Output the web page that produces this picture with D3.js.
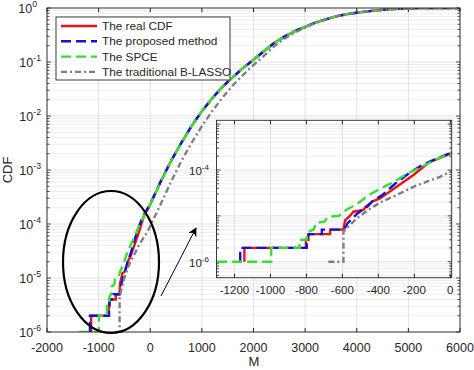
<!DOCTYPE html>
<html>
<head>
<meta charset="utf-8">
<script src="https://cdn.jsdelivr.net/npm/d3@7"></script>
<style>
  body { margin: 0; background: #fff; }
  text { font-family: "Liberation Sans", Arial, sans-serif; fill: #262626; }
</style>
</head>
<body>
<svg id="chart" width="474" height="370"></svg>
<script>
// [M, CDF] points
var realCdf = [
  [-1145, 1e-6], [-1145, 2e-6], [-803, 2e-6], [-803, 3e-6], [-789, 3e-6], [-789, 4e-6],
  [-668, 4e-6], [-668, 5e-6], [-594, 5e-6], [-585, 8e-6], [-553, 1.05e-5], [-539, 1.23e-5],
  [-483, 1.34e-5], [-470, 1.6e-5], [-428, 2.1e-5], [-391, 2.4e-5], [-298, 4.3e-5],
  [-205, 7.8e-5], [-113, 1.5e-4], [-37, 1.95e-4], [0, 2.3e-4],
  [200, 6.0e-4], [400, 1.45e-3], [600, 3.16e-3], [800, 6.5e-3], [1000, 0.0123], [1200, 0.0214],
  [1400, 0.0347], [1600, 0.0525], [1800, 0.0776], [2000, 0.11], [2200, 0.158], [2400, 0.224],
  [2600, 0.295], [2800, 0.372], [3000, 0.447], [3200, 0.537], [3400, 0.617], [3600, 0.70],
  [3800, 0.767], [4000, 0.818], [4200, 0.867], [4400, 0.908], [4600, 0.942], [4800, 0.968],
  [5000, 0.986], [5200, 0.993], [5500, 0.998], [6000, 1]
];
var proposed = [
  [-1168, 1e-6], [-1168, 2e-6], [-798, 2e-6], [-798, 3e-6], [-785, 4e-6], [-714, 4e-6],
  [-714, 5e-6], [-600, 5e-6], [-585, 5.5e-6], [-570, 7e-6], [-546, 8.5e-6], [-520, 1.1e-5],
  [-490, 1.34e-5], [-460, 1.6e-5], [-428, 2.2e-5], [-380, 2.8e-5], [-307, 5.0e-5],
  [-230, 8.5e-5], [-154, 1.3e-4], [-63, 1.87e-4], [0, 2.35e-4],
  [200, 6.1e-4], [400, 1.46e-3], [600, 3.17e-3], [800, 6.5e-3], [1000, 0.0123], [1200, 0.0214],
  [1400, 0.0347], [1600, 0.0525], [1800, 0.0776], [2000, 0.11], [2200, 0.158], [2400, 0.224],
  [2600, 0.295], [2800, 0.372], [3000, 0.447], [3200, 0.537], [3400, 0.617], [3600, 0.70],
  [3800, 0.767], [4000, 0.818], [4200, 0.867], [4400, 0.908], [4600, 0.942], [4800, 0.968],
  [5000, 0.986], [5200, 0.993], [5500, 0.998], [6000, 1]
];
var spce = [
  [-1380, 1e-6], [-996, 1e-6], [-996, 2e-6], [-839, 2e-6], [-839, 3e-6], [-800, 3e-6],
  [-790, 4.5e-6], [-760, 5e-6], [-745, 7e-6], [-700, 7.5e-6], [-680, 9.5e-6], [-620, 1.0e-5],
  [-580, 1.34e-5], [-520, 1.8e-5], [-455, 2.8e-5], [-396, 3.8e-5], [-318, 5.4e-5],
  [-242, 8.2e-5], [-168, 1.13e-4], [-74, 1.74e-4], [0, 2.3e-4],
  [200, 6.0e-4], [400, 1.45e-3], [600, 3.16e-3], [800, 6.5e-3], [1000, 0.0123], [1200, 0.0214],
  [1400, 0.0347], [1600, 0.0525], [1800, 0.0776], [2000, 0.11], [2200, 0.158], [2400, 0.224],
  [2600, 0.295], [2800, 0.372], [3000, 0.447], [3200, 0.537], [3400, 0.617], [3600, 0.70],
  [3800, 0.767], [4000, 0.818], [4200, 0.867], [4400, 0.908], [4600, 0.942], [4800, 0.968],
  [5000, 0.986], [5200, 0.993], [5500, 0.998], [6000, 1]
];
var bLasso = [
  [-678, 1e-6], [-594, 1e-6], [-594, 4.5e-6], [-557, 6.3e-6], [-520, 8.8e-6], [-464, 1.28e-5],
  [-391, 1.95e-5], [-298, 2.85e-5], [-205, 4.3e-5], [-131, 5.55e-5], [-57, 7.1e-5], [0, 9.2e-5],
  [200, 2.3e-4], [400, 6.0e-4], [600, 1.45e-3], [800, 3.16e-3], [1000, 6.5e-3], [1200, 0.0123],
  [1400, 0.022], [1600, 0.037], [1800, 0.058], [2000, 0.088], [2200, 0.13], [2400, 0.195],
  [2600, 0.27], [2800, 0.352], [3000, 0.435], [3200, 0.53], [3400, 0.617], [3600, 0.70],
  [3800, 0.767], [4000, 0.818], [4200, 0.867], [4400, 0.908], [4600, 0.942], [4800, 0.968],
  [5000, 0.986], [5200, 0.993], [5500, 0.998], [6000, 1]
];

var legendLabels = ['The real CDF', 'The proposed method', 'The SPCE', 'The traditional B-LASSO'];
var xTicks = [-2000, -1000, 0, 1000, 2000, 3000, 4000, 5000, 6000];
var yTickExp = [0, -1, -2, -3, -4, -5, -6];
var insetXTicks = [-1200, -1000, -800, -600, -400, -200, 0];
var insetYTickExp = [-4, -6];

var series = [
  { data: realCdf,  color: '#f01010', dash: null },
  { data: proposed, color: '#1010e0', dash: '10,5' },
  { data: spce,     color: '#33e033', dash: '10,5' },
  { data: bLasso,   color: '#7f7f7f', dash: '6,3,2,3' }
];

var svg = d3.select('#chart');
var axisColor = '#262626';

// every 1..9 x 10^k value inside a log domain
function logLines(lo, hi) {
  var out = [];
  for (var e = Math.floor(Math.log10(lo)); e <= Math.ceil(Math.log10(hi)); e++) {
    for (var m = 1; m < 10; m++) {
      var v = m * Math.pow(10, e);
      if (v >= lo * 0.999 && v <= hi * 1.001) out.push({ v: v, major: m === 1 });
    }
  }
  return out;
}

function drawAxes(g, x, y, xt, id) {
  var x0 = x.range()[0], x1 = x.range()[1];
  var y0 = y.range()[0], y1 = y.range()[1];
  g.append('rect').attr('x', x0).attr('y', y1).attr('width', x1 - x0).attr('height', y0 - y1)
   .attr('fill', '#fff');
  var lines = logLines(y.domain()[0], y.domain()[1]);
  // grid
  g.append('g').selectAll('line').data(lines).enter().append('line')
   .attr('x1', x0).attr('x2', x1)
   .attr('y1', function(d) { return y(d.v); }).attr('y2', function(d) { return y(d.v); })
   .attr('stroke', function(d) { return d.major ? '#dadada' : '#e8e8e8'; })
   .attr('stroke-width', 0.8);
  g.append('g').selectAll('line').data(xt).enter().append('line')
   .attr('y1', y0).attr('y2', y1)
   .attr('x1', function(d) { return x(d); }).attr('x2', function(d) { return x(d); })
   .attr('stroke', '#dadada').attr('stroke-width', 0.8);
  // ticks on all four sides, pointing in
  g.append('g').selectAll('line').data(xt).enter().append('line')
   .attr('x1', function(d) { return x(d); }).attr('x2', function(d) { return x(d); })
   .attr('y1', y0).attr('y2', y0 - 4).attr('stroke', axisColor);
  g.append('g').selectAll('line').data(xt).enter().append('line')
   .attr('x1', function(d) { return x(d); }).attr('x2', function(d) { return x(d); })
   .attr('y1', y1).attr('y2', y1 + 4).attr('stroke', axisColor);
  [x0, x1].forEach(function(side) {
    var dir = side === x0 ? 1 : -1;
    g.append('g').selectAll('line').data(lines).enter().append('line')
     .attr('x1', side).attr('x2', function(d) { return side + dir * (d.major ? 4 : 2.5); })
     .attr('y1', function(d) { return y(d.v); }).attr('y2', function(d) { return y(d.v); })
     .attr('stroke', axisColor).attr('stroke-width', 0.8);
  });

  svg.append('clipPath').attr('id', id).append('rect')
     .attr('x', x0).attr('y', y1).attr('width', x1 - x0).attr('height', y0 - y1);

  var line = d3.line()
      .x(function(d) { return x(d[0]); })
      .y(function(d) { return y(d[1]); });

  g.append('g').attr('clip-path', 'url(#' + id + ')')
   .selectAll('path').data(series).enter().append('path')
   .attr('d', function(s) { return line(s.data); })
   .attr('fill', 'none')
   .attr('stroke', function(s) { return s.color; })
   .attr('stroke-width', 2.4)
   .attr('stroke-dasharray', function(s) { return s.dash; });

  g.append('rect').attr('x', x0).attr('y', y1).attr('width', x1 - x0).attr('height', y0 - y1)
   .attr('fill', 'none').attr('stroke', axisColor).attr('stroke-width', 0.9);
}

function powLabel(g, px, py, exp, size) {
  var t = g.append('text').attr('x', px).attr('y', py).attr('text-anchor', 'end')
           .style('font-size', size + 'px');
  t.append('tspan').text('10');
  t.append('tspan').attr('dy', -size * 0.45).style('font-size', (size * 0.7) + 'px').text(exp);
}

// main axes
var x = d3.scaleLinear().domain([-2000, 6000]).range([47, 460]);
var y = d3.scaleLog().domain([1e-6, 1]).range([332, 8]);
var main = svg.append('g');
drawAxes(main, x, y, xTicks, 'clipMain');

main.selectAll('.xl').data(xTicks).enter().append('text')
    .attr('x', function(d) { return x(d); }).attr('y', 352)
    .attr('text-anchor', 'middle').style('font-size', '12.5px')
    .text(function(d) { return d; });
yTickExp.forEach(function(e) {
  powLabel(main, e === 0 ? 37 : 41, y(Math.pow(10, e)) + 5, e, 12.5);
});
main.append('text').attr('x', 254).attr('y', 366).attr('text-anchor', 'middle')
    .style('font-size', '13px').text('M');
main.append('text').attr('transform', 'translate(12,170) rotate(-90)')
    .attr('text-anchor', 'middle').style('font-size', '13px').text('CDF');

// legend
var leg = svg.append('g');
leg.append('rect').attr('x', 56).attr('y', 17).attr('width', 174).attr('height', 63)
   .attr('fill', '#fff').attr('stroke', axisColor).attr('stroke-width', 0.9);
legendLabels.forEach(function(label, i) {
  var ly = 26 + i * 15.3;
  leg.append('line').attr('x1', 61).attr('x2', 97).attr('y1', ly).attr('y2', ly)
     .attr('stroke', series[i].color).attr('stroke-width', 2.4)
     .attr('stroke-dasharray', series[i].dash);
  leg.append('text').attr('x', 102).attr('y', ly + 4).style('font-size', '11.8px').text(label);
});

// zoom marks
svg.append('ellipse').attr('cx', 111).attr('cy', 262).attr('rx', 48).attr('ry', 71)
   .attr('fill', 'none').attr('stroke', '#000').attr('stroke-width', 2.2);
svg.append('defs').append('marker').attr('id', 'arr').attr('viewBox', '0 0 10 10')
   .attr('refX', 9).attr('refY', 5).attr('markerWidth', 9).attr('markerHeight', 9)
   .attr('markerUnits', 'userSpaceOnUse').attr('orient', 'auto')
   .append('path').attr('d', 'M0,0 L10,5 L0,10 L3,5 Z').attr('fill', '#000');
svg.append('line').attr('x1', 161).attr('y1', 296).attr('x2', 196).attr('y2', 228)
   .attr('stroke', '#000').attr('stroke-width', 1).attr('marker-end', 'url(#arr)');

// inset
var xi = d3.scaleLinear().domain([-1300, 8]).range([216.5, 451.7]);
var yi = d3.scaleLog().domain([Math.pow(10, -6.349), Math.pow(10, -2.916)]).range([277.7, 120.3]);
var inset = svg.append('g');
drawAxes(inset, xi, yi, insetXTicks, 'clipInset');
inset.selectAll('.xl').data(insetXTicks).enter().append('text')
     .attr('x', function(d) { return xi(d); }).attr('y', 294)
     .attr('text-anchor', 'middle').style('font-size', '11.5px')
     .text(function(d) { return d; });
insetYTickExp.forEach(function(e) {
  powLabel(inset, 209, yi(Math.pow(10, e)) + 5, e, 11.5);
});
</script>
</body>
</html>
